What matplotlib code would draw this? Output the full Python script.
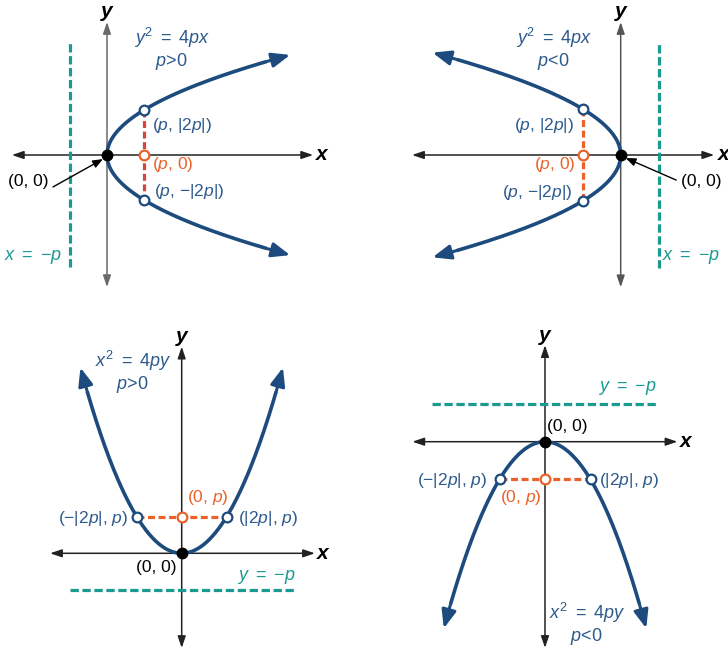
import matplotlib
matplotlib.use("Agg")
import matplotlib.pyplot as plt
import numpy as np

plt.rcParams['font.family'] = ['Liberation Sans', 'DejaVu Sans']
plt.rcParams['mathtext.fontset'] = 'custom'
plt.rcParams['mathtext.rm'] = 'Liberation Sans'
plt.rcParams['mathtext.it'] = 'Liberation Sans:italic'
plt.rcParams['mathtext.bf'] = 'Liberation Sans:bold'
plt.rcParams['lines.scale_dashes'] = False

W, H = 728, 650
CURVE = '#1d4b7d'
LABEL = '#2d5a8c'
TEAL = '#1a9a90'
ORANGE = '#e8622a'
RED = '#d6463c'

#-----------Panel data------------
# origin of each panel in pixels, and pixels per unit along x / y
panel_origin = [(107, 155), (620.7, 155), (181.7, 553.3), (545, 441.7)]
panel_scale = [(37, 22.5), (38, 23), (22.5, 36.7), (22.75, 37.7)]
p_values = [1, -1, 1, -1]
sym_axis = ['x', 'x', 'y', 'y']
x_axis_ext = [(-2.57, 5.57), (-5.49, 2.46), (-5.85, 5.92), (-5.83, 5.82)]
y_axis_ext = [(-5.87, 5.91), (-5.75, 5.78), (-2.58, 5.63), (-5.47, 2.56)]
directrix_ext = [(-4.98, 5.02), (-4.9, 4.9), (-4.96, 5.03), (-4.95, 4.94)]
curve_tip = [4.45, 4.45, 4.5, 4.45]
axis_color = ['#6a6a6a', '#555555', '#222222', '#222222']
focus_line_color = [RED, ORANGE, ORANGE, ORANGE]

eq_text = [r'$y^2\ =\ 4px$', r'$y^2\ =\ 4px$', r'$x^2\ =\ 4py$', r'$x^2\ =\ 4py$']
sign_text = [r'$p\!>\!0$', r'$p\!<\!0$', r'$p\!>\!0$', r'$p\!<\!0$']
dir_text = [r'$x\ =\ $−$p$', r'$x\ =\ $−$p$', r'$y\ =\ $−$p$', r'$y\ =\ $−$p$']


def make_ax(origin, scale):
    ox, oy = origin
    sx, sy = scale
    ax = fig.add_axes([0, 0, 1, 1])
    ax.set_xlim(-ox / sx, (W - ox) / sx)
    ax.set_ylim((oy - H) / sy, oy / sy)
    ax.axis('off')
    ax.patch.set_alpha(0)
    return ax


def axis_arrow(ax, a, b, color):
    ax.annotate('', xy=b, xytext=a,
                arrowprops=dict(arrowstyle='<|-|>,head_length=0.5,head_width=0.17',
                                mutation_scale=14, color=color, lw=1.1,
                                shrinkA=0, shrinkB=0), zorder=1)


def curve_arrow(ax, a, b):
    ax.annotate('', xy=b, xytext=a,
                arrowprops=dict(arrowstyle='-|>,head_length=0.55,head_width=0.22',
                                mutation_scale=20, color=CURVE, lw=2.2,
                                shrinkA=0, shrinkB=0), zorder=3)


fig = plt.figure(figsize=(W / 100, H / 100), dpi=100)

for i in range(4):
    ax = make_ax(panel_origin[i], panel_scale[i])
    p = p_values[i]
    tip = curve_tip[i]
    back = tip - 0.3

    # coordinate axes
    axis_arrow(ax, (x_axis_ext[i][0], 0), (x_axis_ext[i][1], 0), '#222222')
    axis_arrow(ax, (0, y_axis_ext[i][0]), (0, y_axis_ext[i][1]), axis_color[i])

    t = np.linspace(-back, back, 300)
    if sym_axis[i] == 'x':
        cx, cy = t ** 2 / (4 * p), t
        ends = [((back ** 2 / (4 * p), s * back), (tip ** 2 / (4 * p), s * tip)) for s in (1, -1)]
        focus = (p, 0)
        lr = [(p, 2 * abs(p)), (p, -2 * abs(p))]
        ax.plot([-p, -p], directrix_ext[i], color=TEAL, lw=2.3, dashes=(6, 2.6), zorder=1)
    else:
        cx, cy = t, t ** 2 / (4 * p)
        ends = [((s * back, back ** 2 / (4 * p)), (s * tip, tip ** 2 / (4 * p))) for s in (1, -1)]
        focus = (0, p)
        lr = [(-2 * abs(p), p), (2 * abs(p), p)]
        ax.plot(directrix_ext[i], [-p, -p], color=TEAL, lw=2.3, dashes=(6, 2.6), zorder=1)

    ax.plot(cx, cy, color=CURVE, lw=2.6, zorder=3, solid_capstyle='butt')
    for a, b in ends:
        curve_arrow(ax, a, b)

    ax.plot([lr[0][0], lr[1][0]], [lr[0][1], lr[1][1]], color=focus_line_color[i],
            lw=2.3, dashes=(5, 2.6), zorder=2)
    ax.plot([q[0] for q in lr], [q[1] for q in lr], 'o', ms=7, mfc='white',
            mec=CURVE, mew=1.6, zorder=5)
    ax.plot(*focus, 'o', ms=7, mfc='white', mec=ORANGE, mew=1.6, zorder=5)
    ax.plot(0, 0, 'o', ms=7.5, color='black', zorder=6)

    # axis names
    ax.text(x_axis_ext[i][1] + 0.24 * (1 if sym_axis[i] == 'x' else 1.5), 0, 'x', fontsize=15,
            fontweight='bold', fontstyle='italic', ha='center', va='center')
    ax.text(0, y_axis_ext[i][1] + 0.45 * (1 if sym_axis[i] == 'x' else 0.6), 'y', fontsize=15,
            fontweight='bold', fontstyle='italic', ha='center', va='center')

# ---- labels, panel by panel (data units of each panel) ----
axes = fig.axes
kw = dict(fontsize=12.5, va='center')
ke = dict(fontsize=13, va='center')

a1 = axes[0]
a1.text(1.76, 5.2, eq_text[0], color=LABEL, ha='center', **ke)
a1.text(1.76, 4.15, sign_text[0], color=LABEL, ha='center', **ke)
a1.text(1.22, 1.33, r'($p$, |2$p$|)', color=LABEL, ha='left', **kw)
a1.text(1.22, -0.44, r'($p$, 0)', color=ORANGE, ha='left', **kw)
a1.text(1.27, -1.64, r'($p$, −|2$p$|)', color=LABEL, ha='left', **kw)
a1.text(-1.22, -4.53, dir_text[0], color=TEAL, ha='right', **ke)
a1.text(-2.68, -1.2, '(0, 0)', color='black', ha='left', **kw)
a1.annotate('', xy=(-0.11, -0.18), xytext=(-1.46, -1.42),
            arrowprops=dict(arrowstyle='-|>,head_length=0.5,head_width=0.2',
                            mutation_scale=12, color='black', lw=1, shrinkA=0, shrinkB=0))

a2 = axes[1]
a2.text(-1.76, 5.09, eq_text[1], color=LABEL, ha='center', **ke)
a2.text(-1.76, 4.06, sign_text[1], color=LABEL, ha='center', **ke)
a2.text(-1.23, 1.3, r'($p$, |2$p$|)', color=LABEL, ha='right', **kw)
a2.text(-1.2, -0.43, r'($p$, 0)', color=ORANGE, ha='right', **kw)
a2.text(-1.28, -1.61, r'($p$, −|2$p$|)', color=LABEL, ha='right', **kw)
a2.text(1.09, -4.43, dir_text[1], color=TEAL, ha='left', **ke)
a2.text(1.59, -1.17, '(0, 0)', color='black', ha='left', **kw)
a2.annotate('', xy=(0.13, -0.13), xytext=(1.46, -1.09),
            arrowprops=dict(arrowstyle='-|>,head_length=0.5,head_width=0.2',
                            mutation_scale=12, color='black', lw=1, shrinkA=0, shrinkB=0))

a3 = axes[2]
a3.text(-2.16, 5.25, eq_text[2], color=LABEL, ha='center', **ke)
a3.text(-2.16, 4.6, sign_text[2], color=LABEL, ha='center', **ke)
a3.text(1.17, 1.51, r'(0, $p$)', color=ORANGE, ha='center', **kw)
a3.text(-2.39, 0.96, r'(−|2$p$|, $p$)', color=LABEL, ha='right', **kw)
a3.text(2.5, 0.96, r'(|2$p$|, $p$)', color=LABEL, ha='left', **kw)
a3.text(-1.14, -0.4, '(0, 0)', color='black', ha='center', **kw)
a3.text(5.04, -0.65, dir_text[2], color=TEAL, ha='right', **ke)

a4 = axes[3]
a4.text(4.92, 1.42, dir_text[3], color=TEAL, ha='right', **ke)
a4.text(0.09, 0.39, '(0, 0)', color='black', ha='left', **kw)
a4.text(-2.55, -1.02, r'(−|2$p$|, $p$)', color=LABEL, ha='right', **kw)
a4.text(2.37, -1.02, r'(|2$p$|, $p$)', color=LABEL, ha='left', **kw)
a4.text(-1.05, -1.49, r'(0, $p$)', color=ORANGE, ha='center', **kw)
a4.text(1.85, -4.55, eq_text[3], color=LABEL, ha='center', **ke)
a4.text(1.85, -5.18, sign_text[3], color=LABEL, ha='center', **ke)

fig.savefig('out.png', dpi=100)
